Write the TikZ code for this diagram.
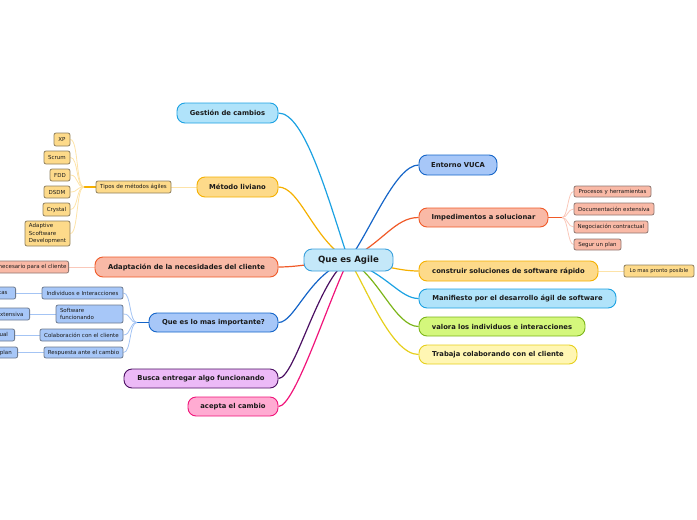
\documentclass[tikz,border=0pt]{standalone}
\usepackage{fontspec}
\setmainfont{DejaVu Sans}
\pgfdeclarelayer{bg}
\pgfsetlayers{bg,main}
\definecolor{txt}{HTML}{1A1A1A}
\definecolor{ctrF}{HTML}{C4E8F9}\definecolor{ctrD}{HTML}{3AA0DC}
\definecolor{cyL}{HTML}{1BA1E2}\definecolor{cyF}{HTML}{B0E3FA}
\definecolor{yeL}{HTML}{F5B000}\definecolor{yeF}{HTML}{FDDA8A}\definecolor{yeS}{HTML}{FDE3A8}\definecolor{yeB}{HTML}{8E7F5E}
\definecolor{reL}{HTML}{F05A28}\definecolor{reF}{HTML}{F9B9A6}\definecolor{reS}{HTML}{FAC8BA}\definecolor{reB}{HTML}{8E7771}
\definecolor{blL}{HTML}{1565C8}\definecolor{blF}{HTML}{A7C7F8}\definecolor{blS}{HTML}{A4C4F4}\definecolor{blB}{HTML}{6D7A8E}
\definecolor{puL}{HTML}{4B0F62}\definecolor{puF}{HTML}{ECBAF7}
\definecolor{piL}{HTML}{F0147A}\definecolor{piF}{HTML}{FFABD2}
\definecolor{grL}{HTML}{7CB51A}\definecolor{grF}{HTML}{D4F77C}
\definecolor{ltL}{HTML}{E6CF1C}\definecolor{ltF}{HTML}{FFF6B3}
\begin{document}
\begin{tikzpicture}[x=1pt,y=-1pt,
  mainbox/.style={rounded corners=8pt, line width=0.9pt, minimum height=20pt, inner sep=0pt,
    font=\fontsize{6.8}{8}\selectfont\bfseries, text=txt},
  subbox/.style={rounded corners=2pt, line width=0.8pt, minimum height=12pt, inner sep=0pt,
    font=\fontsize{5.5}{6.6}\selectfont, text=txt},
  link/.style={line width=1.2pt},
  slink/.style={line width=0.8pt},
  ysub/.style={subbox, fill=yeF, draw=yeB},
  rsub/.style={subbox, fill=reF, draw=reB},
  bsub/.style={subbox, fill=blF, draw=blB},
]
\useasboundingbox (0,0) rectangle (697,520);
% central
\node[mainbox, fill=ctrF, draw=ctrD, minimum width=89pt, minimum height=22pt, font=\fontsize{8.6}{10}\selectfont\bfseries] (ctr) at (348.5,260) {Que es Agile};
% left main
\node[mainbox, fill=cyF, draw=cyL, minimum width=101pt] (gest) at (227.5,113) {Gestión de cambios};
\node[mainbox, fill=yeF, draw=yeL, minimum width=81pt] (met) at (237.5,187) {Método liviano};
\node[mainbox, fill=reF, draw=reL, minimum width=183pt] (adap) at (186.5,267) {Adaptación de la necesidades del cliente};
\node[mainbox, fill=blF, draw=blL, minimum width=129pt, minimum height=19pt] (imp) at (213.5,322.5) {Que es lo mas importante?};
\node[mainbox, fill=puF, draw=puL, minimum width=154pt, minimum height=19pt] (busca) at (201,378.5) {Busca entregar algo funcionando};
\node[mainbox, fill=piF, draw=piL, minimum width=90pt, minimum height=19pt] (acep) at (233,406.5) {acepta el cambio};
% right main
\node[mainbox, fill=blF, draw=blL, minimum width=78pt] (vuca) at (458,165) {Entorno VUCA};
\node[mainbox, fill=reF, draw=reL, minimum width=129pt, minimum height=19pt] (impe) at (483.5,217.5) {Impedimentos a solucionar};
\node[mainbox, fill=yeF, draw=yeL, minimum width=179pt] (cons) at (508.5,271) {construir soluciones de software rápido};
\node[mainbox, fill=cyF, draw=cyL, minimum width=197pt, minimum height=19pt] (mani) at (517.5,298.5) {Manifiesto por el desarrollo ágil de software};
\node[mainbox, fill=grF, draw=grL, minimum width=166pt, minimum height=19pt] (valo) at (502,326.5) {valora los individuos e interacciones};
\node[mainbox, fill=ltF, draw=ltL, minimum width=158pt, minimum height=19pt] (trab) at (498,354.5) {Trabaja colaborando con el cliente};
% yellow subs
\node[ysub, minimum width=75pt] (tipos) at (133.5,187) {Tipos de métodos ágiles};
\node[ysub, minimum width=16pt, minimum height=13pt] (xp) at (62,139.5) {XP};
\node[ysub, minimum width=26pt, minimum height=13pt] (scrum) at (57,157.5) {Scrum};
\node[ysub, minimum width=20pt] (fdd) at (60,175) {FDD};
\node[ysub, minimum width=26pt] (dsdm) at (57,192) {DSDM};
\node[ysub, minimum width=27pt, minimum height=13pt] (crys) at (56.5,209.5) {Crystal};
\node[ysub, minimum width=45pt, minimum height=25pt, align=left, font=\fontsize{5.5}{7.2}\selectfont] (asd) at (47.5,233.5) {Adaptive\\Scoftware\\Development};
\node[ysub, minimum width=70pt, font=\fontsize{5.3}{6.4}\selectfont] (lomas) at (659,271) {Lo mas pronto posible};
% red subs
\node[rsub, minimum width=80pt, anchor=east] (lonec) at (69,267) {Lo necesario para el cliente};
\node[rsub, minimum width=77pt, minimum height=11pt] (proc) at (612.5,191.5) {Procesos y herramientas};
\node[rsub, minimum width=80pt] (docu) at (614,209) {Documentación extensiva};
\node[rsub, minimum width=74pt] (nego) at (611,227) {Negociación contractual};
\node[rsub, minimum width=47pt, minimum height=11pt] (segu) at (597.5,244.5) {Segur un plan};
% blue subs
\node[bsub, minimum width=81pt] (indi) at (82.5,293) {Individuos e Interacciones};
\node[bsub, text width=59pt, inner xsep=4pt, minimum height=18pt, align=left, font=\fontsize{5.5}{7}\selectfont] (soft) at (89.5,314) {Software\\funcionando};
\node[bsub, minimum width=83pt] (cola) at (81.5,335) {Colaboración con el cliente};
\node[bsub, minimum width=79pt, minimum height=11pt] (resp) at (83.5,352.5) {Respuesta ante el cambio};
\node[bsub, minimum width=84pt, anchor=east] (procL) at (16,293) {Procesos y herramientas};
\node[bsub, minimum width=84pt, anchor=east] (docL) at (30,314) {Documentación extensiva};
\node[bsub, minimum width=80pt, anchor=east] (negL) at (15,335) {Negociación contractual};
\node[bsub, minimum width=50pt, minimum height=11pt, anchor=east] (segL) at (18,352.5) {Segur un plan};
% branch points
\coordinate (byel) at (84,187);
\coordinate (bblu) at (137,322.5);
\coordinate (bred) at (562,217.5);
\begin{pgfonlayer}{bg}
% main connectors
\draw[link, cyL] (ctr.center) .. controls +(-20,-60) and (305,113) .. (gest.east);
\draw[link, yeL] (ctr.center) .. controls +(-35,-20) and (300,187) .. (met.east);
\draw[link, reL] (ctr.center) .. controls (320,262) and (300,267) .. (adap.east);
\draw[link, blL] (ctr.center) .. controls +(-40,14) and (295,322.5) .. (imp.east);
\draw[link, puL] (ctr.center) .. controls +(-30,18) and (295,378.5) .. (busca.east);
\draw[link, piL] (ctr.center) .. controls +(-20,40) and (295,406.5) .. (acep.east);
\draw[link, blL] (ctr.center) .. controls +(20,-25) and (395,165) .. (vuca.west);
\draw[link, reL] (ctr.center) .. controls +(35,-18) and (395,217.5) .. (impe.west);
\draw[link, yeL] (ctr.center) .. controls (375,262) and (395,271) .. (cons.west);
\draw[link, cyL] (ctr.center) .. controls +(40,15) and (400,298.5) .. (mani.west);
\draw[link, grL] (ctr.center) .. controls +(30,15) and (395,326.5) .. (valo.west);
\draw[link, ltL] (ctr.center) .. controls +(15,20) and (390,354.5) .. (trab.west);
% yellow
\draw[slink, yeS] (met.west) -- (tipos.east);
\draw[link, yeL] (tipos.west) -- (byel);
\foreach \n in {xp,scrum,fdd,dsdm,crys,asd}
  \draw[slink, yeS] (byel) .. controls +(-8,0) and +(8,0) .. (\n.east);
\draw[slink, yeS] (cons.east) -- (lomas.west);
% red
\draw[slink, reS] (adap.west) -- (lonec.east);
\draw[link, reL] (impe.east) -- (bred);
\foreach \n in {proc,docu,nego,segu}
  \draw[slink, reS] (bred) .. controls +(6,0) and +(-6,0) .. (\n.west);
% blue
\draw[link, blL] (imp.west) -- (bblu);
\foreach \n in {indi,soft,cola,resp}
  \draw[slink, blS] (bblu) .. controls +(-8,0) and +(8,0) .. (\n.east);
\draw[slink, blS] (indi.west) -- (procL.east);
\draw[slink, blS] (soft.west) -- (docL.east);
\draw[slink, blS] (cola.west) -- (negL.east);
\draw[slink, blS] (resp.west) -- (segL.east);
\end{pgfonlayer}
\end{tikzpicture}
\end{document}
